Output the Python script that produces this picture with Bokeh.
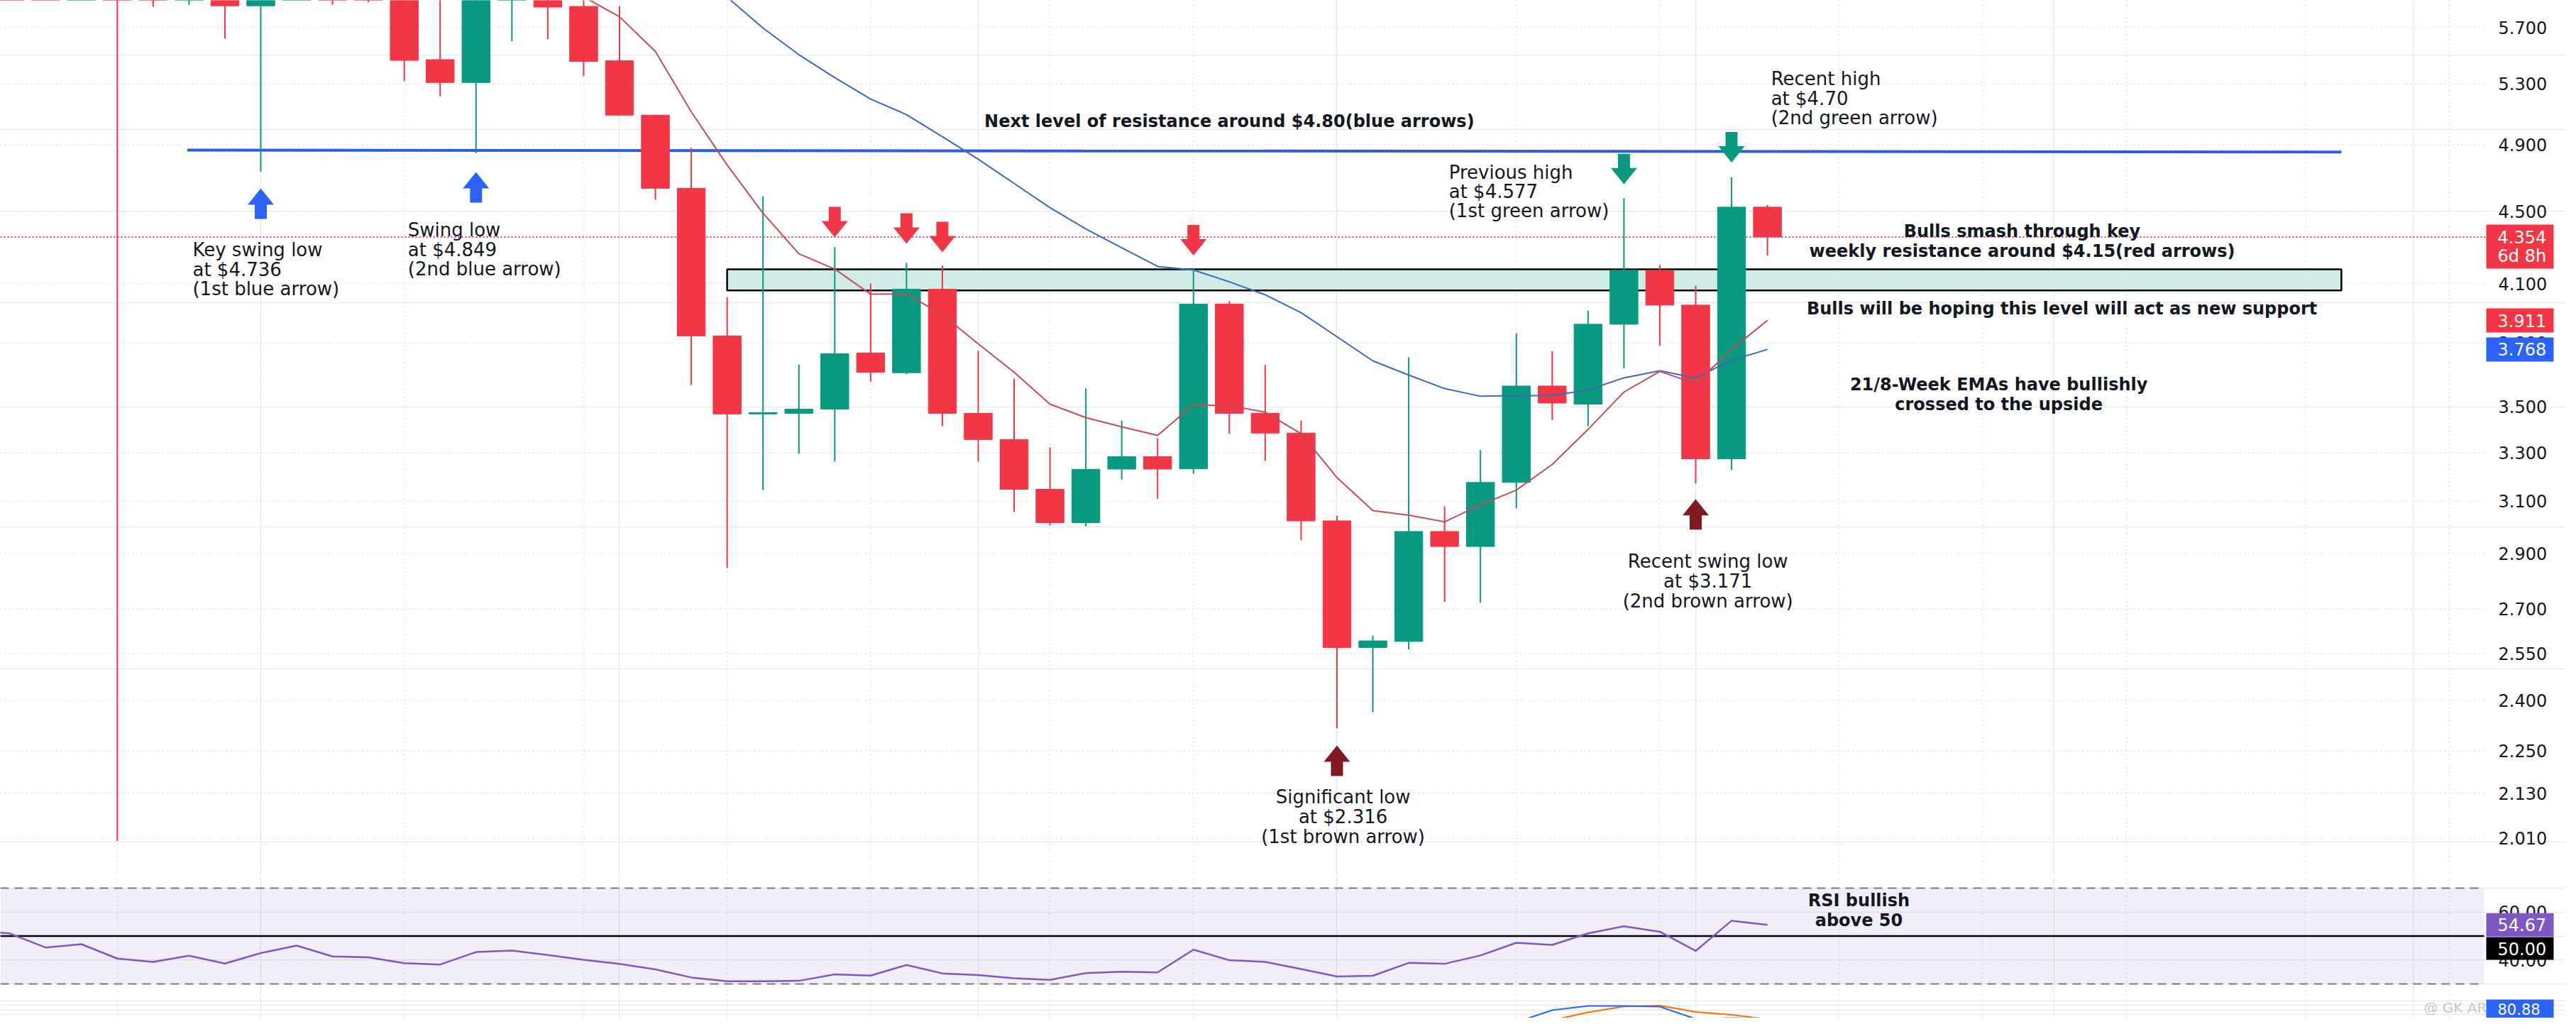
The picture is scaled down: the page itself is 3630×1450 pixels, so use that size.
import numpy as np
from bokeh.plotting import figure
from bokeh.models import (Range1d, FixedTicker, NumeralTickFormatter, Grid, Label,
                          BoxAnnotation, ColumnDataSource, LogAxis, LinearAxis)
from bokeh.layouts import column
from bokeh.core.properties import value
from bokeh.embed import file_html
from bokeh.resources import INLINE

# ---------------- data (weekly candles, index = week number) ----------------
weeks = list(range(-8, 43))
opens = [6.70, 6.55, 6.45, 6.15, 6.25, 6.05, 5.95, 6.02, 5.860, 6.10,
         6.30, 6.05, 6.00, 5.468, 5.310, 6.00, 6.10, 5.855, 5.460, 5.092,
         4.635, 3.834, 3.468, 3.471, 3.490, 3.751, 3.657, 4.071, 3.471, 3.356,
         3.148, 3.016, 3.231, 3.283, 3.232, 3.994, 3.471, 3.384, 3.023, 2.569,
         2.589, 2.982, 2.925, 3.176, 3.595, 3.512, 3.892, 4.170, 3.989, 3.274,
         4.524]
highs = [6.85, 6.75, 6.55, 6.40, 6.35, 6.15, 6.10, 6.08, 6.25, 6.40,
         6.35, 6.15, 6.05, 5.95, 6.20, 6.30, 6.15, 5.93, 5.855, 5.092,
         4.882, 4.031, 4.588, 3.695, 4.297, 4.101, 4.211, 4.196, 3.762, 3.630,
         3.322, 3.584, 3.439, 3.362, 4.179, 4.009, 3.693, 3.439, 3.043, 2.609,
         3.730, 3.080, 3.311, 3.847, 3.759, 3.961, 4.577, 4.200, 4.090, 4.700,
         4.536]
lows = [6.45, 6.30, 6.05, 6.00, 2.003, 5.851, 5.867, 5.616, 4.736, 5.98,
        5.867, 5.886, 5.320, 5.216, 4.849, 5.599, 5.614, 5.354, 5.092, 4.567,
        3.600, 2.845, 3.145, 3.295, 3.262, 3.615, 3.650, 3.414, 3.262, 3.058,
        3.005, 3.002, 3.188, 3.110, 3.212, 3.381, 3.265, 2.948, 2.316, 2.364,
        2.563, 2.724, 2.721, 3.072, 3.441, 3.414, 3.678, 3.787, 3.171, 3.228,
        4.251]
closes = [6.55, 6.45, 6.15, 6.25, 6.05, 5.95, 6.02, 5.860, 6.10, 6.30,
          6.05, 6.00, 5.463, 5.310, 6.00, 6.10, 5.850, 5.456, 5.092, 4.635,
          3.834, 3.468, 3.474, 3.490, 3.747, 3.659, 4.071, 3.471, 3.356, 3.148,
          3.016, 3.230, 3.283, 3.231, 3.994, 3.471, 3.384, 3.023, 2.569, 2.591,
          2.982, 2.925, 3.176, 3.595, 3.517, 3.892, 4.170, 3.989, 3.274, 4.524,
          4.354]

ema8_weeks = list(range(8, 43))
ema8 = [6.165, 5.928, 5.778, 5.526, 5.114, 4.776, 4.489, 4.261, 4.178, 4.045,
        4.046, 3.940, 3.795, 3.659, 3.512, 3.452, 3.411, 3.374, 3.509, 3.506,
        3.476, 3.381, 3.196, 3.063, 3.045, 3.019, 3.086, 3.145, 3.250, 3.400,
        3.567, 3.663, 3.606, 3.768, 3.911]
ema21_weeks = list(range(12, 43))
ema21 = [6.193, 5.925, 5.695, 5.503, 5.343, 5.198, 5.095, 4.953, 4.811, 4.664,
         4.521, 4.399, 4.294, 4.192, 4.173, 4.110, 4.042, 3.950, 3.830, 3.713,
         3.646, 3.583, 3.548, 3.551, 3.551, 3.577, 3.633, 3.666, 3.633, 3.716,
         3.768]

rsi = [52.3, 51.1, 45.2, 46.6, 40.6, 39.2, 41.8, 38.5, 42.9, 46.0,
       41.5, 41.1, 38.7, 38.1, 43.3, 43.9, 42.1, 40.1, 38.4, 36.1,
       32.7, 31.1, 31.1, 31.3, 34.0, 33.5, 37.9, 34.4, 33.7, 32.4,
       31.7, 34.5, 35.1, 34.8, 44.3, 39.9, 39.2, 36.2, 33.1, 33.4,
       38.8, 38.4, 41.9, 47.2, 46.3, 51.1, 54.1, 51.8, 43.8, 56.4,
       54.67]

stoch_weeks = list(range(25, 43))
stoch_k = [60, 70, 76.5, 75.5, 65, 50, 42, 48, 60, 70, 77, 90, 94.6, 94.6, 93.8, 80.5, 81.5, 80.88]
stoch_d = [55, 62, 69, 74, 72, 63, 52, 47, 50, 59, 69, 79, 87.7, 94, 95, 88, 85, 80.2]

price_ticks = [2.01, 2.13, 2.25, 2.40, 2.55, 2.70, 2.90, 3.10, 3.30, 3.50,
               3.80, 4.10, 4.50, 4.90, 5.30, 5.70]
month_ticks = [-4, 0, 4, 9, 13, 17, 22, 26, 30, 35, 39, 44, 48, 52, 57, 61]
rsi_ticks = [40, 60]

last_price = 4.354
ema8_last = 3.911
ema21_last = 3.768
rsi_last = 54.67

# annotation arrows (week, tip price, points up?)
arrow_weeks = [0, 6, 16, 18, 19, 26, 38, 41, 30, 40]
arrow_tips = [4.634, 4.732, 4.352, 4.316, 4.269, 4.252, 4.659, 4.791, 2.265, 3.109]
arrow_up = [True, True, False, False, False, False, False, False, True, True]
arrow_kind = ["blue", "blue", "red", "red", "red", "red", "green", "green", "brown", "brown"]

# ---------------- styling ----------------
GREEN = "#089981"
RED = "#f23645"
BLUE = "#2962ff"
BROWN = "#801922"
TXT = "#131722"
GRID = "#dfe2ea"
SEP = "#e0e3eb"
FONT = "DejaVu Sans"
TOTAL_W = 3614
PANE_W = 3500                 # plotting area left of the price scale
MAIN_H = 1232
X_LO = -7.26
PPX = 50.55                   # pixels per week
X_EDGE = X_LO + PANE_W / PPX  # where the price scale begins
X_HI = X_LO + TOTAL_W / PPX
Y_LO, Y_HI = 1.91862, 5.9010
PPL = MAIN_H / np.log(Y_HI / Y_LO)
arrow_colors = {"blue": BLUE, "red": RED, "green": GREEN, "brown": BROWN}


def base_fig(h, y_range, log=False):
    f = figure(frame_width=TOTAL_W, frame_height=h, x_range=Range1d(X_LO, X_HI),
               y_range=y_range, y_axis_type="log" if log else "linear",
               x_axis_location=None, y_axis_location=None,
               toolbar_location=None, output_backend="svg",
               min_border_left=0, min_border_right=0, min_border_top=0,
               min_border_bottom=0, background_fill_color="white",
               border_fill_color="white", outline_line_color=None)
    f.add_layout(Grid(dimension=0, ticker=FixedTicker(ticks=month_ticks),
                      grid_line_color=GRID, grid_line_dash="2 4", grid_line_width=1.5))
    return f


def price_scale(f, ticks, fmt, log=False):
    cls = LogAxis if log else LinearAxis
    ax = cls(fixed_location=X_EDGE, ticker=FixedTicker(ticks=ticks),
             formatter=NumeralTickFormatter(format=fmt))
    ax.axis_line_color = None
    ax.major_tick_line_color = None
    ax.minor_tick_line_color = None
    ax.major_tick_out = 0
    ax.major_tick_in = 0
    ax.minor_tick_out = 0
    ax.minor_tick_in = 0
    ax.major_label_standoff = 20
    ax.major_label_text_font = FONT
    ax.major_label_text_font_size = "24px"
    ax.major_label_text_color = TXT
    f.add_layout(ax, "right")
    # horizontal grid lines at the scale's ticks, stopping at the scale
    f.segment(x0=[X_LO] * len(ticks), x1=[X_EDGE] * len(ticks), y0=ticks, y1=ticks,
              line_color=GRID, line_dash="2 4", line_width=1.5, level="underlay")


def hline(f, y, color, dash, width):
    f.segment(x0=[X_LO], x1=[X_EDGE], y0=[y], y1=[y], line_color=color,
              line_dash=dash, line_width=width)


def value_box(fig, y, lines, color, h, size="24px", y_shift=0):
    # coloured price-scale tag drawn over the scale labels
    fig.rect(x=[X_EDGE + 50.5 / PPX], y=[y], width=95, height=h,
             width_units="screen", height_units="screen", fill_color=color,
             line_color=None, level="overlay")
    n = len(lines)
    fig.text(x=[X_EDGE + 19 / PPX] * n, y=[y] * n, text=lines,
             y_offset=[(i - (n - 1) / 2) * 27.5 + y_shift for i in range(n)],
             text_font=value(FONT), text_font_size=size, text_color="white",
             text_align="left", text_baseline="middle", level="overlay")


def note(fig, k, yv, lines, bold, align, spacing):
    n = len(lines)
    fig.text(x=[k] * n, y=[yv] * n, text=lines,
             y_offset=[i * spacing for i in range(n)],
             text_font=value(FONT), text_font_size="24px" if bold else "26px",
             text_font_style="bold" if bold else "normal", text_align=align,
             text_baseline="middle", text_color=TXT)


# ---------------- main price pane ----------------
p = base_fig(MAIN_H, Range1d(Y_LO, Y_HI), log=True)
price_scale(p, price_ticks, "0.000", log=True)

# support / resistance zone and resistance line (beneath candles)
p.quad(left=[13.0], right=[58.0], top=[4.177], bottom=[4.065],
       fill_color="#cfece6", line_color="black", line_width=2.5)
p.line(x=[-2.05, 58.0], y=[4.868, 4.856], line_color="#2d5ddb", line_width=4)
p.segment(x0=[X_LO], x1=[X_EDGE + 0.1], y0=[last_price], y1=[last_price],
          line_color="#c24d57", line_dash="2 3", line_width=2)

colors = [GREEN if c >= o else RED for o, c in zip(opens, closes)]
src = ColumnDataSource(dict(x=weeks, h=highs, l=lows,
                            top=[max(o, c) for o, c in zip(opens, closes)],
                            bottom=[min(o, c) for o, c in zip(opens, closes)],
                            color=colors))
p.segment(x0="x", y0="l", x1="x", y1="h", line_color="color", line_width=2, source=src)
p.vbar(x="x", top="top", bottom="bottom", width=0.78, fill_color="color",
       line_color="color", line_width=1, source=src)

p.line(ema21_weeks, ema21, line_color="#3b69b6", line_width=2)
p.line(ema8_weeks, ema8, line_color="#c44c58", line_width=2)

# arrows
xs, ys, cs = [], [], []
shape = [(0, 0), (18.5, 23), (8.5, 23), (8.5, 43), (-8.5, 43), (-8.5, 23), (-18.5, 23)]
for k, tip, up, kind in zip(arrow_weeks, arrow_tips, arrow_up, arrow_kind):
    s = 1 if up else -1
    xs.append([k + dx / PPX for dx, dy in shape])
    ys.append([tip * np.exp(-s * dy / PPL) for dx, dy in shape])
    cs.append(arrow_colors[kind])
p.patches(xs=xs, ys=ys, fill_color=cs, line_color=None)

note(p, -1.90, 4.281, ["Key swing low", "at $4.736", "(1st blue arrow)"], False, "left", 27.4)
note(p, 4.10, 4.393, ["Swing low", "at $4.849", "(2nd blue arrow)"], False, "left", 27.4)
note(p, 27.0, 5.051, ["Next level of resistance around $4.80(blue arrows)"], True, "center", 28)
note(p, 33.12, 4.732, ["Previous high", "at $4.577", "(1st green arrow)"], False, "left", 27.4)
note(p, 42.10, 5.334, ["Recent high", "at $4.70", "(2nd green arrow)"], False, "left", 27.6)
note(p, 49.10, 4.387, ["Bulls smash through key", "weekly resistance around $4.15(red arrows)"], True, "center", 28)
note(p, 50.21, 3.972, ["Bulls will be hoping this level will act as new support"], True, "center", 28)
note(p, 48.45, 3.600, ["21/8-Week EMAs have bullishly", "crossed to the upside"], True, "center", 28)
note(p, 30.17, 2.1197, ["Significant low", "at $2.316", "(1st brown arrow)"], False, "center", 28)
note(p, 40.34, 2.871, ["Recent swing low", "at $3.171", "(2nd brown arrow)"], False, "center", 28)

value_box(p, 4.300, ["4.354", "6d 8h"], RED, 62)
value_box(p, ema8_last, ["3.911"], RED, 34)
value_box(p, ema21_last, ["3.768"], BLUE, 34)


# ---------------- separators ----------------
def separator(h):
    f = figure(frame_width=TOTAL_W, frame_height=h, x_axis_location=None,
               y_axis_location=None, toolbar_location=None, output_backend="svg",
               min_border=0, background_fill_color=SEP, border_fill_color=SEP,
               outline_line_color=None, x_range=Range1d(0, 1), y_range=Range1d(0, 1))
    f.grid.visible = False
    return f


# ---------------- RSI pane ----------------
r = base_fig(168, Range1d(25.26, 75.04))
price_scale(r, rsi_ticks, "0.00")
r.add_layout(BoxAnnotation(left=X_LO, right=X_EDGE, bottom=30, top=70,
                           fill_color="#7e57c2", fill_alpha=0.1,
                           line_color=None, level="underlay"))
for lv in (70, 30):
    hline(r, lv, "#787b86", "12 8", 2)
hline(r, 50, "black", "solid", 2.5)
r.line(weeks, rsi, line_color="#7e57c2", line_width=2.5)
note(r, 44.55, 64.8, ["RSI bullish", "above 50"], True, "center", 27.5)
value_box(r, rsi_last, ["54.67"], "#7e57c2", 33)
value_box(r, 44.8, ["50.00"], "black", 32)

# ---------------- stochastic pane (cut off at the bottom of the view) ----------------
s = base_fig(30, Range1d(81.5, 104.6))
hline(s, 80, "#787b86", "12 8", 2)
s.line(stoch_weeks, stoch_d, line_color="#ff6d00", line_width=2)
s.line(stoch_weeks, stoch_k, line_color="#2962ff", line_width=2)
s.add_layout(Label(x=X_EDGE - 85 / PPX, y=3, x_units="data", y_units="screen",
                   text="@ GK ARONNO", text_font=FONT, text_font_size="20px",
                   text_color="#9598a1", text_alpha=0.55, text_baseline="bottom",
                   text_align="left"))
# tag shown at the visible top of the scale (its value sits just below the view)
s.rect(x=[X_EDGE + 50.5 / PPX], y=[91.5], width=95, height=26,
       width_units="screen", height_units="screen", fill_color=BLUE,
       line_color=None, level="overlay")
s.text(x=[X_EDGE + 19 / PPX], y=[91.5], text=["%.2f" % stoch_k[-1]],
       text_font=value(FONT), text_font_size="21px", text_color="white",
       text_align="left", text_baseline="middle", level="overlay")

layout = column(p, separator(2), r, separator(2), s, spacing=0)
open("out.html", "w").write(file_html(layout, INLINE))
